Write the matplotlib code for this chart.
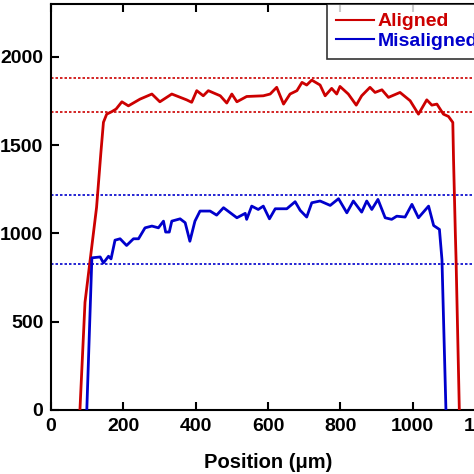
import matplotlib
matplotlib.use("Agg")
import matplotlib.pyplot as plt
from matplotlib.lines import Line2D

plt.rcParams['font.family'] = ['Liberation Sans', 'DejaVu Sans']
plt.rcParams['font.weight'] = 'bold'

# ---- data ----
aligned_x = [80, 94, 126, 138, 145, 154, 168, 180, 196, 214, 246, 279, 301, 334, 375, 389,
             403, 421, 435, 468, 486, 500, 514, 541, 587, 606, 624, 643, 661, 680, 694, 707,
             721, 744, 758, 776, 790, 799, 822, 844, 859, 882, 896, 915, 933, 965, 993, 1016,
             1039, 1053, 1067, 1085, 1099, 1111, 1113, 1118, 1120, 1129]
aligned_y = [0, 610, 1148, 1460, 1630, 1676, 1690, 1705, 1746, 1723, 1761, 1790, 1746, 1790, 1757, 1743,
             1809, 1780, 1809, 1780, 1739, 1790, 1746, 1776, 1780, 1790, 1828, 1733, 1790, 1809, 1856, 1841,
             1869, 1841, 1780, 1822, 1790, 1833, 1790, 1727, 1780, 1828, 1799, 1814, 1771, 1799, 1752, 1676,
             1757, 1727, 1733, 1676, 1663, 1629, 1420, 1000, 852, 0]

mis_x = [99, 113, 136, 145, 159, 166, 177, 191, 209, 228, 242, 260, 279, 297, 311, 317, 327, 334,
         357, 371, 384, 398, 412, 440, 458, 477, 514, 537, 541, 555, 573, 587, 604, 620, 652, 675,
         689, 707, 721, 744, 772, 795, 818, 836, 859, 873, 887, 904, 924, 942, 956, 979, 998, 1016,
         1044, 1058, 1074, 1081, 1092]
mis_y = [0, 862, 867, 833, 871, 856, 962, 970, 932, 970, 970, 1032, 1042, 1032, 1070, 1008, 1008, 1070,
         1083, 1061, 956, 1070, 1127, 1127, 1104, 1146, 1089, 1114, 1080, 1155, 1136, 1155, 1083, 1140, 1140, 1180,
         1131, 1093, 1174, 1184, 1159, 1197, 1117, 1184, 1121, 1184, 1136, 1193, 1089, 1080, 1098, 1093, 1165, 1089,
         1155, 1045, 1023, 852, 0]

aligned_bounds = [1880, 1690]
mis_bounds = [1220, 825]

labels = ["Aligned", "Misaligned"]
colors = ["#CC0000", "#0000CC"]

xticks = [0, 200, 400, 600, 800, 1000, 1200]
yticks = [0, 500, 1000, 1500, 2000]

W = H = 474
fig = plt.figure(figsize=(W / 100, H / 100), dpi=100)
ax = fig.add_axes([51 / W, 64 / H, 434 / W, 406 / H])

for b in aligned_bounds:
    ax.axhline(b, color=colors[0], lw=1.2, ls=(0, (1.5, 1.2)), zorder=1)
for b in mis_bounds:
    ax.axhline(b, color=colors[1], lw=1.2, ls=(0, (1.5, 1.2)), zorder=1)

ax.plot(aligned_x, aligned_y, color=colors[0], lw=2.0, zorder=3)
ax.plot(mis_x, mis_y, color=colors[1], lw=2.0, zorder=3)

ax.set_xlim(0, 1200)
ax.set_ylim(0, 2300)
ax.set_xticks(xticks)
ax.set_yticks(yticks)
ax.tick_params(direction='in', length=6, width=1.5, labelsize=14, pad=5.5,
               top=True, right=True)
for lab in ax.get_xticklabels() + ax.get_yticklabels():
    lab.set_fontweight('bold')
for s in ax.spines.values():
    s.set_linewidth(1.5)

ax.set_xlabel("Position (μm)", fontsize=14.5, fontweight='bold', labelpad=13)

handles = [Line2D([], [], color=c, lw=1.5) for c in colors]
leg = ax.legend(handles, labels, loc='upper left', bbox_to_anchor=((327 - 51) / 434, 1.0),
                fontsize=14, frameon=True, fancybox=False, edgecolor='black',
                handlelength=1.95, handletextpad=0.2, borderpad=0.45, labelspacing=0.1,
                borderaxespad=0.0)
leg.get_frame().set_linewidth(1.2)
leg.set_zorder(5)
for t, c in zip(leg.get_texts(), colors):
    t.set_color(c)
    t.set_fontweight('bold')

fig.savefig("out.png", dpi=100)
